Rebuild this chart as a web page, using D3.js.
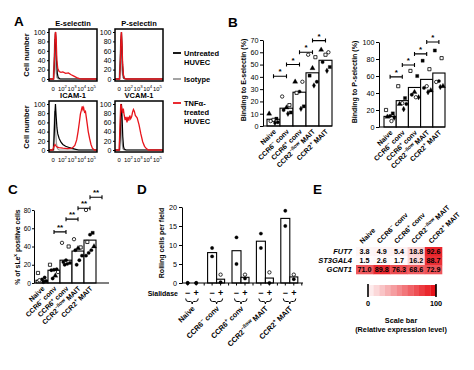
<!DOCTYPE html>
<html><head><meta charset="utf-8">
<script src="https://cdn.jsdelivr.net/npm/d3@7"></script>
<style>html,body{margin:0;padding:0;background:#fff;}svg{display:block;font-family:"Liberation Sans",Arial,sans-serif;}</style>
</head><body><svg id="fig" width="474" height="370"></svg>
<script>
// ---------------- DATA ----------------
const cats = ["Naive","CCR6^{−} conv","CCR6^{+} conv","CCR2^{−/low} MAIT","CCR2^{+} MAIT"];

// Panel A: flow histograms, x in display units (0..5.2), y = cell number (%)
const histTitles = ["E-selectin","P-selectin","ICAM-1","VCAM-1"];
const histTickLabels = ["0","10^{2}","10^{3}","10^{4}","10^{5}"];
const histTickPos = [0.45,1.45,2.5,3.55,4.6];
const histYTicks = [0,20,40,60,80,100];
const untreated = [
  [[0,0],[0.5,0],[0.58,30],[0.64,75],[0.7,100],[0.76,80],[0.82,40],[0.9,12],[1.0,3],[1.2,0],[5.2,0]],
  [[0,0],[0.5,0],[0.58,35],[0.64,80],[0.7,100],[0.76,70],[0.82,30],[0.9,8],[1.0,1],[1.2,0],[5.2,0]],
  [[0,0],[0.5,0],[0.58,40],[0.64,80],[0.7,100],[0.78,72],[0.86,48],[0.95,35],[1.1,25],[1.3,17],[1.5,12],[1.8,8],[2.1,6],[2.4,4],[2.8,2],[3.2,0],[5.2,0]],
  [[0,0],[0.5,0],[0.58,40],[0.64,85],[0.7,100],[0.77,70],[0.84,30],[0.92,8],[1.0,2],[1.2,0],[5.2,0]]
];
const isotype = [
  [[0,0],[0.45,0],[0.55,45],[0.62,85],[0.68,60],[0.75,20],[0.85,3],[1.0,0],[5.2,0]],
  [[0,0],[0.45,0],[0.55,45],[0.62,85],[0.68,60],[0.75,20],[0.85,3],[1.0,0],[5.2,0]],
  [[0,0],[0.45,0],[0.55,50],[0.62,85],[0.7,50],[0.8,15],[0.92,3],[1.1,0],[5.2,0]],
  [[0,0],[0.45,0],[0.55,45],[0.62,85],[0.68,60],[0.75,20],[0.85,3],[1.0,0],[5.2,0]]
];
const tnf = [
  [[0,0],[0.5,0],[0.6,50],[0.67,95],[0.72,100],[0.78,85],[0.85,40],[0.95,22],[1.1,16],[1.3,14],[1.5,15],[1.8,12],[2.1,13],[2.4,9],[2.7,6],[3.0,3],[3.3,1],[3.6,0],[5.2,0]],
  [[0,0],[0.5,0],[0.58,40],[0.65,90],[0.7,100],[0.76,75],[0.83,30],[0.92,8],[1.0,2],[1.2,0],[5.2,0]],
  [[0,0],[0.4,0],[0.55,8],[0.65,12],[0.75,9],[0.9,6],[1.1,5],[1.5,4],[2.0,3],[2.5,4],[2.8,10],[3.0,22],[3.15,40],[3.3,62],[3.4,78],[3.5,86],[3.6,95],[3.68,88],[3.75,92],[3.85,82],[3.95,84],[4.05,70],[4.15,55],[4.25,40],[4.4,25],[4.55,12],[4.7,4],[4.9,0],[5.2,0]],
  [[0,0],[0.45,0],[0.55,60],[0.62,100],[0.7,95],[0.8,80],[0.9,90],[1.0,75],[1.1,65],[1.2,72],[1.3,60],[1.4,72],[1.5,64],[1.6,75],[1.7,68],[1.8,72],[1.9,82],[2.0,88],[2.1,84],[2.2,75],[2.4,70],[2.6,55],[2.8,35],[3.0,18],[3.2,8],[3.4,3],[3.6,0],[5.2,0]]
];
const legendItems = [["Untreated","HUVEC"],["Isotype"],["TNFα-","treated","HUVEC"]];

// Panel B
const eselMeans = [5.5, 14.5, 27.5, 43.3, 53.5];
const eselPoints = [
  [["t",10],["S",6],["s",5],["o",4],["c",3],["d",2.5]],
  [["o",24],["s",17],["t",15],["c",13],["S",11],["d",10]],
  [["t",36],["o",36],["c",28],["s",27],["S",16],["d",14]],
  [["o",58],["s",56],["t",47],["S",41],["c",36],["d",33]],
  [["t",62],["o",60],["s",58],["c",52],["S",48],["d",45]]
];
const eselSig = [40.5, 50, 60, 69.5];
const pselMeans = [12.5, 31, 46.5, 56, 63.5];
const pselPoints = [
  [["s",20],["S",16],["c",13],["t",12],["d",11],["o",7]],
  [["s",48],["S",34],["o",28],["t",27],["c",27],["d",21]],
  [["s",66],["S",60],["t",41],["c",38],["d",35],["o",35]],
  [["S",78],["s",68],["o",48],["c",46],["t",43],["d",41]],
  [["S",90],["s",81],["c",54],["o",53],["t",48],["d",47]]
];
const pselSig = [59, 73, 86, 100];

// Panel C
const slexMeans = [3, 14, 25, 35, 47];
const slexPoints = [
  [["s",11],["c",6],["c",4],["o",3],["c",2],["c",1]],
  [["s",20],["c",15],["c",14.5],["c",14],["o",12],["t",8],["c",5]],
  [["o",44],["s",40],["c",25],["c",23],["c",22],["c",21],["c",20]],
  [["o",48],["s",39],["t",38],["c",36],["c",30],["c",25],["c",20]],
  [["o",80],["S",55],["c",53],["s",45],["t",40],["c",36],["c",33],["c",30]]
];
const slexSig = [56, 70, 82, 94];
const slexSigPairs = [[1,2],[2,3],[3,4],[4,5]];

// Panel D
const rollMinus = [0, 8, 8.5, 11, 17];
const rollPlus = [0, 1, 1.5, 1.3, 1.6];
const rollMinusPts = [[0,0],[9.2,7],[12,5],[13,9.2],[19,15]];
const rollPlusPts = [[0,0],[2.2,0.2],[2.2,1.2],[2.8,0],[2.2,1]];

// Panel E
const genes = ["FUT7","ST3GAL4","GCNT1"];
const fut7 = [3.8, 4.9, 5.4, 18.8, 92.6];
const st3gal4 = [1.5, 2.6, 1.7, 16.2, 88.7];
const gcnt1 = [71.0, 89.8, 76.3, 68.6, 72.9];

// ---------------- DRAWING ----------------
const FONT = '"Liberation Sans", Arial, sans-serif';
const svg = d3.select("#fig");

function rich(sel, str, size) {
  const parts = str.split(/(\^\{[^}]*\})/).filter(s => s.length);
  let prevSup = false;
  parts.forEach(p => {
    if (p.startsWith("^{")) {
      sel.append("tspan").attr("dy", -size * 0.4).attr("font-size", size * 0.72).text(p.slice(2, -1));
      prevSup = true;
    } else {
      const t = sel.append("tspan").text(p);
      if (prevSup) t.attr("dy", size * 0.4);
      prevSup = false;
    }
  });
  return sel;
}
function styleAxis(g, size) {
  g.attr("font-family", FONT).attr("font-size", size);
  g.selectAll("path.domain").attr("stroke", "#000").attr("stroke-width", 1);
  g.selectAll(".tick line").attr("stroke", "#000");
  g.selectAll(".tick text").attr("fill", "#000");
}
function letter(t, x, y) {
  svg.append("text").attr("x", x).attr("y", y).attr("font-size", 13.5).attr("font-weight", "bold").text(t);
}
const symType = {c: d3.symbolCircle, o: d3.symbolCircle, s: d3.symbolSquare, S: d3.symbolSquare, t: d3.symbolTriangle, d: d3.symbolDiamond};
function drawSym(g, code, cx, cy) {
  const open = code === "o" || code === "s";
  const size = code === "t" ? 11 : (code === "d" ? 9 : (code === "s" || code === "S" ? 10 : 9));
  g.append("path").attr("d", d3.symbol().type(symType[code]).size(size)())
    .attr("transform", `translate(${cx},${cy})`)
    .attr("fill", open ? "#fff" : "#000").attr("stroke", "#000").attr("stroke-width", open ? 0.8 : 0.3);
}
function bracket(g, xa, xb, yy, label) {
  g.append("path").attr("d", `M${xa},${yy-2}V${yy+2}M${xa},${yy}H${xb}M${xb},${yy-2}V${yy+2}`)
    .attr("stroke", "#000").attr("stroke-width", 1.1).attr("fill", "none");
  g.append("text").attr("x", (xa + xb) / 2).attr("y", yy - 2).attr("text-anchor", "middle")
    .attr("font-size", 8).attr("font-weight", "bold").text(label);
}
function rotLabels(g, xs, yy, size) {
  cats.forEach((c, i) => {
    const t = g.append("text").attr("text-anchor", "end").attr("font-size", size).attr("font-weight", "bold")
      .attr("transform", `translate(${xs[i]},${yy}) rotate(-45)`);
    rich(t, c, size);
  });
}
function yLabel(text, x, y, size) {
  const t = svg.append("text").attr("text-anchor", "middle").attr("font-size", size).attr("font-weight", "bold")
    .attr("transform", `translate(${x},${y}) rotate(-90)`);
  rich(t, text, size);
}

// ---- Panel A ----
letter("A", 14, 26);
const boxes = [
  {x: 49, y: 29, w: 48, h: 52}, {x: 115, y: 29, w: 48, h: 52},
  {x: 49, y: 101, w: 48, h: 51}, {x: 115, y: 101, w: 48, h: 51}
];
boxes.forEach((b, k) => {
  const g = svg.append("g");
  const x = d3.scaleLinear().domain([0, 5.2]).range([b.x, b.x + b.w]);
  const y = d3.scaleLinear().domain([0, 100]).range([b.y + b.h - 2, b.y + 3]);
  const clipId = "clip" + k;
  svg.append("clipPath").attr("id", clipId).append("rect").attr("x", b.x).attr("y", b.y).attr("width", b.w).attr("height", b.h);
  const line = d3.line().x(d => x(d[0])).y(d => y(d[1]));
  const cg = g.append("g").attr("clip-path", `url(#${clipId})`);
  cg.append("path").attr("d", line(isotype[k])).attr("fill", "none").attr("stroke", "#9a9a9a").attr("stroke-width", 1.2);
  cg.append("path").attr("d", line(untreated[k])).attr("fill", "none").attr("stroke", "#000").attr("stroke-width", 1.2);
  cg.append("path").attr("d", line(tnf[k])).attr("fill", "none").attr("stroke", "#e8141b").attr("stroke-width", 1.3);
  g.append("rect").attr("x", b.x).attr("y", b.y).attr("width", b.w).attr("height", b.h)
    .attr("fill", "none").attr("stroke", "#000").attr("stroke-width", 1.5);
  const ax = g.append("g").attr("transform", `translate(${b.x},0)`)
    .call(d3.axisLeft(y).tickValues(histYTicks).tickSize(2).tickPadding(1.5).tickSizeOuter(0));
  ax.select("path.domain").remove();
  styleAxis(ax, 7);
  histTickPos.forEach((p, i) => {
    const t = g.append("text").attr("x", x(p)).attr("y", b.y + b.h + 9.5).attr("text-anchor", "middle").attr("font-size", 5.9);
    rich(t, histTickLabels[i], 5.9);
  });
  g.append("text").attr("x", b.x + b.w / 2).attr("y", b.y - 3.5).attr("text-anchor", "middle")
    .attr("font-size", 7.5).attr("font-weight", "bold").text(histTitles[k]);
});
yLabel("Cell number", 29, 55, 7.5);
yLabel("Cell number", 29, 127, 7.5);
// legend
const legColors = ["#000", "#9a9a9a", "#e8141b"];
const legY = [53, 79, 103];
legendItems.forEach((lines, i) => {
  svg.append("line").attr("x1", 173).attr("x2", 181).attr("y1", legY[i]).attr("y2", legY[i])
    .attr("stroke", legColors[i]).attr("stroke-width", 1.8);
  lines.forEach((s, j) => {
    svg.append("text").attr("x", 184).attr("y", legY[i] + 2.6 + j * 9).attr("font-size", 7.5).attr("font-weight", "bold").text(s);
  });
});

// ---- Generic bar + scatter panel ----
function barPanel(cfg) {
  const g = svg.append("g");
  const y = d3.scaleLinear().domain([0, cfg.max]).range([cfg.yBottom, cfg.yTop]);
  const x = d3.scaleBand().domain(d3.range(cats.length)).range([cfg.x0, cfg.x1]);
  const bw = x.bandwidth();
  const cx = i => cfg.x0 + bw * (i + 0.5);
  g.selectAll("rect.bar").data(cfg.means).join("rect")
    .attr("x", (d, i) => x(i)).attr("y", d => y(d)).attr("width", bw).attr("height", d => cfg.yBottom - y(d))
    .attr("fill", "#fff").attr("stroke", "#000").attr("stroke-width", 1.1);
  cfg.points.forEach((pts, i) => {
    pts.forEach((p, j) => {
      const off = (((j * 5) % 7) - 3) * bw / 9;
      drawSym(g, p[0], cx(i) + off, y(p[1]));
    });
  });
  const ax = g.append("g").attr("transform", `translate(${cfg.axisX},0)`)
    .call(d3.axisLeft(y).tickValues(d3.range(0, cfg.max + 0.01, cfg.step)).tickSize(cfg.tick || 3).tickPadding(cfg.pad || 2).tickSizeOuter(0));
  styleAxis(ax, cfg.tickFont || 7.2);
  g.append("line").attr("x1", cfg.axisX).attr("x2", cfg.x1 + (cfg.xExtra || 0)).attr("y1", cfg.yBottom).attr("y2", cfg.yBottom)
    .attr("stroke", "#000").attr("stroke-width", 1.1);
  cfg.sig.forEach((v, i) => {
    const pr = cfg.sigPairs ? cfg.sigPairs[i] : [i, i + 1];
    bracket(g, cx(pr[0]), cx(pr[1]), y(v), cfg.sigLabel);
  });
  rotLabels(g, cats.map((c, i) => cx(i) + 3), cfg.labelY, 7);
}

// ---- Panel B ----
letter("B", 228, 27);
barPanel({x0: 267, x1: 332, axisX: 263, yBottom: 126, yTop: 40, max: 70, step: 10, pad: 1.5,
  means: eselMeans, points: eselPoints, sig: eselSig, sigLabel: "*", labelY: 132});
yLabel("Binding to E-selectin (%)", 246, 80, 7);
barPanel({x0: 384, x1: 445, axisX: 379, yBottom: 127, yTop: 42, max: 100, step: 20, pad: 1.5,
  means: pselMeans, points: pselPoints, sig: pselSig, sigLabel: "*", labelY: 133});
yLabel("Binding to P-selectin (%)", 357, 82, 7);

// ---- Panel C ----
letter("C", 8, 194);
barPanel({x0: 36, x1: 96, axisX: 34, yBottom: 283, yTop: 210, max: 80, step: 20, xExtra: 13, tick: 2, pad: 1, tickFont: 6.6,
  means: slexMeans, points: slexPoints, sig: slexSig, sigPairs: slexSigPairs, sigLabel: "**", labelY: 289});
yLabel("% of sLe^{x} positive cells", 20, 247, 6.8);

// ---- Panel D ----
letter("D", 137, 194);
{
  const g = svg.append("g");
  const y = d3.scaleLinear().domain([0, 20]).range([283, 207]);
  const xg = d3.scaleBand().domain(d3.range(cats.length)).range([180, 302]);
  const gc = i => xg(i) + xg.bandwidth() / 2;
  const bwM = 9, bwP = 8;
  g.selectAll("rect.m").data(rollMinus).join("rect")
    .attr("x", (d, i) => gc(i) - bwM).attr("y", d => y(d)).attr("width", bwM).attr("height", d => 283 - y(d))
    .attr("fill", "#fff").attr("stroke", "#000").attr("stroke-width", 1.1);
  g.selectAll("rect.p").data(rollPlus).join("rect")
    .attr("x", (d, i) => gc(i)).attr("y", d => y(d)).attr("width", bwP).attr("height", d => 283 - y(d))
    .attr("fill", "#fff").attr("stroke", "#000").attr("stroke-width", 1.1);
  rollMinusPts.forEach((pts, i) => pts.forEach(v => drawSym(g, "c", gc(i) - bwM / 2, y(v))));
  rollPlusPts.forEach((pts, i) => pts.forEach((v, j) => drawSym(g, j === 0 && i > 0 ? "o" : "c", gc(i) + bwP / 2, y(v))));
  const ax = g.append("g").attr("transform", "translate(182,0)")
    .call(d3.axisLeft(y).tickValues([0, 5, 10, 15, 20]).tickSize(3).tickPadding(2).tickSizeOuter(0));
  styleAxis(ax, 7.2);
  g.append("line").attr("x1", 182).attr("x2", 303).attr("y1", 283).attr("y2", 283).attr("stroke", "#000").attr("stroke-width", 1.1);
  cats.forEach((c, i) => {
    [gc(i) - bwM / 2, gc(i) + bwP / 2, gc(i) + 12].forEach(tx => {
      g.append("line").attr("x1", tx).attr("x2", tx).attr("y1", 283).attr("y2", 285.5).attr("stroke", "#000");
    });
    g.append("text").attr("x", gc(i) - bwM / 2).attr("y", 296).attr("text-anchor", "middle").attr("font-size", 9).attr("font-weight", "bold").text("−");
    g.append("text").attr("x", gc(i) + bwP / 2).attr("y", 296).attr("text-anchor", "middle").attr("font-size", 9).attr("font-weight", "bold").text("+");
    const xa = gc(i) - bwM / 2 - 2, xb = gc(i) + bwP / 2 + 2, c0 = gc(i);
    g.append("path").attr("d", `M${xa},298.5Q${xa},301.5 ${xa+2.5},301.5L${c0-1.5},301.5Q${c0},301.5 ${c0},304Q${c0},301.5 ${c0+1.5},301.5L${xb-2.5},301.5Q${xb},301.5 ${xb},298.5`)
      .attr("fill", "none").attr("stroke", "#000").attr("stroke-width", 1);
  });
  g.append("text").attr("x", 178).attr("y", 296).attr("text-anchor", "end").attr("font-size", 7).attr("font-weight", "bold").text("Sialidase");
  rotLabels(g, cats.map((c, i) => gc(i) + 3), 309, 7.4);
}
yLabel("Rolling cells per field", 164, 243, 7);

// ---- Panel E ----
letter("E", 313, 194);
{
  const g = svg.append("g");
  const rows = [fut7, st3gal4, gcnt1];
  const x = d3.scaleBand().domain(d3.range(cats.length)).range([356, 442]);
  const y = d3.scaleBand().domain(d3.range(genes.length)).range([247, 274]);
  const color = d3.scaleLinear().domain([0, 100]).range(["#ffffff", "#e8141b"]);
  rows.forEach((vals, r) => {
    vals.forEach((v, c) => {
      g.append("rect").attr("x", x(c)).attr("y", y(r)).attr("width", x.bandwidth() + 0.3).attr("height", y.bandwidth() + 0.3).attr("fill", color(v));
      g.append("text").attr("x", x(c) + x.bandwidth() / 2).attr("y", y(r) + y.bandwidth() / 2 + 2.5)
        .attr("text-anchor", "middle").attr("font-size", 7.2).attr("font-weight", "bold").text(v.toFixed(1));
    });
    g.append("text").attr("x", 352).attr("y", y(r) + y.bandwidth() / 2 + 2.5).attr("text-anchor", "end")
      .attr("font-size", 7.5).attr("font-weight", "bold").attr("font-style", "italic").text(genes[r]);
  });
  cats.forEach((c, i) => {
    const t = g.append("text").attr("font-size", 7).attr("font-weight", "bold")
      .attr("transform", `translate(${x(i) + x.bandwidth() / 2 - 2},${244}) rotate(-45)`);
    rich(t, c, 7);
  });
  // scale bar
  const sx = d3.scaleLinear().domain([0, 100]).range([368, 436]);
  const steps = d3.range(0, 100, 100 / 12);
  steps.forEach(s => {
    g.append("rect").attr("x", sx(s)).attr("y", 285).attr("width", sx(100 / 12) - sx(0) + 0.3).attr("height", 11)
      .attr("fill", color(s + 100 / 12));
  });
  [0, 100].forEach(v => {
    g.append("line").attr("x1", sx(v)).attr("x2", sx(v)).attr("y1", 284).attr("y2", 297).attr("stroke", "#000").attr("stroke-width", 1.6);
    g.append("text").attr("x", sx(v)).attr("y", 306).attr("text-anchor", "middle").attr("font-size", 7.3).attr("font-weight", "bold").text(v);
  });
  g.append("text").attr("x", 401).attr("y", 323).attr("text-anchor", "middle").attr("font-size", 7.3).attr("font-weight", "bold").text("Scale bar");
  g.append("text").attr("x", 401).attr("y", 332).attr("text-anchor", "middle").attr("font-size", 7.3).attr("font-weight", "bold").text("(Relative expression level)");
}
</script></body></html>
